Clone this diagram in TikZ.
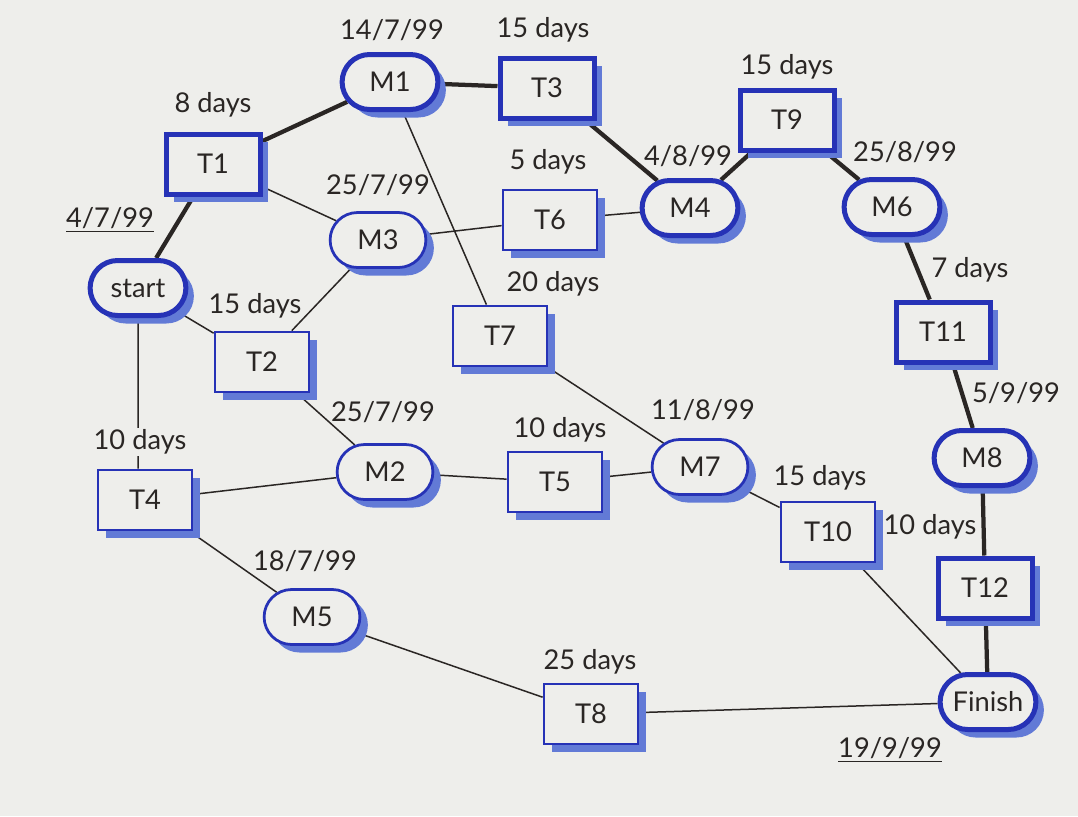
\documentclass[tikz,border=0pt]{standalone}
\usepackage{fontspec}
\setmainfont{Lato}
\usepackage{xcolor}
\usetikzlibrary{shapes.misc, shadows, backgrounds}

\definecolor{inkblue}{RGB}{38,50,182}
\definecolor{shadeblue}{RGB}{98,122,214}
\definecolor{paper}{RGB}{238,238,235}
\definecolor{ink}{RGB}{42,38,36}

\begin{document}
\begin{tikzpicture}[x = 0.2mm, y = -0.2mm, font = \fontsize{15.5}{18}\selectfont, text = ink,
    base/.style  = {draw = inkblue, fill = paper, line width = 0.55mm,
                    drop shadow = {shadow xshift = 1.6mm, shadow yshift = -1.6mm,
                                   fill = shadeblue, opacity = 1}},
    task/.style  = {base, rectangle, minimum width = 18.8mm, minimum height = 12mm},
    mile/.style  = {base, rounded rectangle, minimum width = 21.5mm, minimum height = 11mm},
    crit/.style  = {line width = 1mm},
    note/.style  = {inner sep = 1pt},
    link/.style  = {draw = ink, line width = 0.3mm},
    clink/.style = {draw = ink, line width = 0.85mm}]
    \useasboundingbox (0,0) rectangle (1078,816);

    % milestones and tasks
    \node[mile, crit] (start)  at (138,288) {start};
    \node[task, crit] (T1)     at (213,164) {T1};
    \node[mile, crit] (M1)     at (390,82)  {M1};
    \node[task, crit] (T3)     at (547,88)  {T3};
    \node[mile]       (M3)     at (378,240) {M3};
    \node[task]       (T6)     at (550,220) {T6};
    \node[mile, crit] (M4)     at (690,208) {M4};
    \node[task, crit] (T9)     at (787,120) {T9};
    \node[mile, crit] (M6)     at (892,207) {M6};
    \node[task, crit] (T11)    at (943,332) {T11};
    \node[mile, crit] (M8)     at (982,458) {M8};
    \node[task, crit] (T12)    at (985,588) {T12};
    \node[mile, crit] (finish) at (988,702) {Finish};
    \node[task]       (T2)     at (262,362) {T2};
    \node[task]       (T7)     at (500,336) {T7};
    \node[task]       (T4)     at (145,500) {T4};
    \node[mile]       (M2)     at (385,472) {M2};
    \node[mile]       (M5)     at (312,617) {M5};
    \node[task]       (T5)     at (555,482) {T5};
    \node[mile]       (M7)     at (700,467) {M7};
    \node[task]       (T10)    at (828,532) {T10};
    \node[task]       (T8)     at (591,714) {T8};

    % durations and dates
    \node[note] (dM1)  at (392,30)  {14/7/99};
    \node[note] (dT3)  at (543,30)  {15 days};
    \node[note] (dT1)  at (213,105) {8 days};
    \node[note] (dst)  at (110,220) {\underline{4/7/99}};
    \node[note] (dM3)  at (378,185) {25/7/99};
    \node[note] (dT6)  at (548,162) {5 days};
    \node[note] (dM4)  at (688,156) {4/8/99};
    \node[note] (dT9)  at (787,67)  {15 days};
    \node[note] (dM6)  at (905,152) {25/8/99};
    \node[note] (dT11) at (970,270) {7 days};
    \node[note] (dT7)  at (553,284) {20 days};
    \node[note] (dT2)  at (255,306) {15 days};
    \node[note] (dM2)  at (383,412) {25/7/99};
    \node[note, fill = paper] (dT4) at (140,442) {10 days};
    \node[note] (dT5)  at (560,430) {10 days};
    \node[note] (dM7)  at (703,410) {11/8/99};
    \node[note] (dM8)  at (1016,393) {5/9/99};
    \node[note] (dT10) at (820,478) {15 days};
    \node[note] (dT12) at (930,527) {10 days};
    \node[note] (dM5)  at (305,561) {18/7/99};
    \node[note] (dT8)  at (590,662) {25 days};
    \node[note] (dfin) at (890,750) {\underline{19/9/99}};

    \begin{pgfonlayer}{background}
        \fill[paper] (0,0) rectangle (1078,816);
        % critical path
        \path[clink] (start) -- (T1)  (T1) -- (M1)  (M1) -- (T3)  (T3) -- (M4)
                     (M4) -- (T9)  (T9) -- (M6)  (M6) -- (T11)  (T11) -- (M8)
                     (M8) -- (T12)  (T12) -- (finish);
        % other links
        \path[link] (T1) -- (M3)  (start) -- (T2)  (T2) -- (M3)
                    (start) -- (start |- T4.north)  (M1) -- (T7)
                    (M3) -- (T6)  (T6) -- (M4)  (T2) -- (M2)
                    (T4) -- (M2)  (T4) -- (M5)  (M2) -- (T5)
                    (T5) -- (M7)  (T7) -- (M7)  (M7) -- (T10)
                    (T10) -- (finish)  (M5) -- (T8)  (T8) -- (finish);
    \end{pgfonlayer}
\end{tikzpicture}
\end{document}
